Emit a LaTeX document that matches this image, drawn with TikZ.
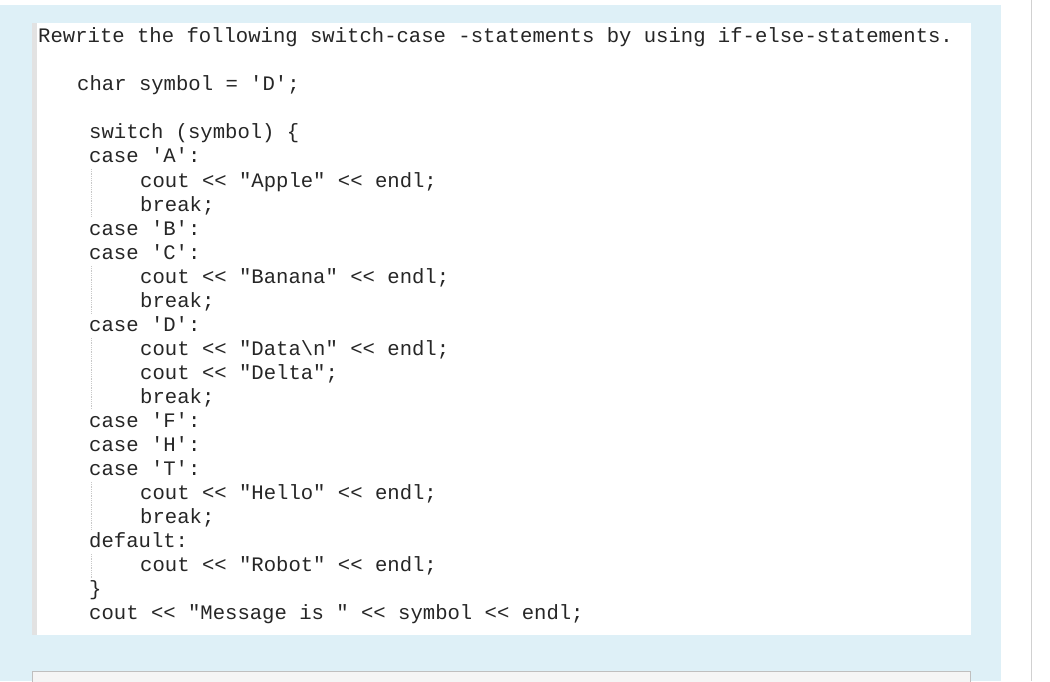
\documentclass[tikz,border=0pt]{standalone}
\usepackage{fontspec}
\setmonofont{Liberation Mono}
\definecolor{bgblue}{HTML}{DEF0F7}
\definecolor{stripgrey}{HTML}{E2E2E2}
\definecolor{guide}{HTML}{C8C8C8}
\begin{document}
\begin{tikzpicture}[x=1pt,y=-1pt,
  code/.style={anchor=west,inner sep=0pt,font=\ttfamily\fontsize{20.6}{24}\selectfont,text=black!85,text height=14pt,text depth=4pt},
  guideline/.style={draw=guide,line width=0.8pt,densely dotted}]
\useasboundingbox (0,0) rectangle (1050,681);
\fill[white] (0,0) rectangle (1050,681);
\fill[bgblue] (0,5) rectangle (1001,681);
\fill[white] (32,23) rectangle (971,635);
\fill[stripgrey] (32,23) rectangle (37,635);
\filldraw[fill=black!4,draw=black!25,line width=1pt] (32,681.5) -- (32,671) -- (970,671) -- (970,681.5);
\draw[black!18,line width=1pt] (1031,0) -- (1031,681);
% guide lines
\draw[guideline] (91,169) -- (91,217);
\draw[guideline] (91,266) -- (91,313);
\draw[guideline] (91,338) -- (91,409);
\draw[guideline] (91,482) -- (91,530);
\draw[guideline] (91,554) -- (91,578);
% text
\node[code] (title) at (38,37) {Rewrite the following switch-case -statements by using if-else-statements.};
\node[code] (decl) at (77,85) {char symbol = 'D';};
\node[code] (sw) at (89,133) {switch (symbol) \{};
\node[code] (ca) at (89,157) {case 'A':};
\node[code] (l1) at (140,182) {cout << "Apple" << endl;};
\node[code] (l2) at (140,206) {break;};
\node[code] (cb) at (89,230) {case 'B':};
\node[code] (cc) at (89,254) {case 'C':};
\node[code] (l3) at (140,278) {cout << "Banana" << endl;};
\node[code] (l4) at (140,302) {break;};
\node[code] (cd) at (89,326) {case 'D':};
\node[code] (l5) at (140,350) {cout << "Data\textbackslash n" << endl;};
\node[code] (l6) at (140,374) {cout << "Delta";};
\node[code] (l7) at (140,398) {break;};
\node[code] (cf) at (89,422) {case 'F':};
\node[code] (ch) at (89,446) {case 'H':};
\node[code] (ct) at (89,470) {case 'T':};
\node[code] (l8) at (140,494) {cout << "Hello" << endl;};
\node[code] (l9) at (140,518) {break;};
\node[code] (df) at (89,542) {default:};
\node[code] (l10) at (140,566) {cout << "Robot" << endl;};
\node[code] (cl) at (89,590) {\}};
\node[code] (msg) at (89,614) {cout << "Message is " << symbol << endl;};
\end{tikzpicture}
\end{document}
